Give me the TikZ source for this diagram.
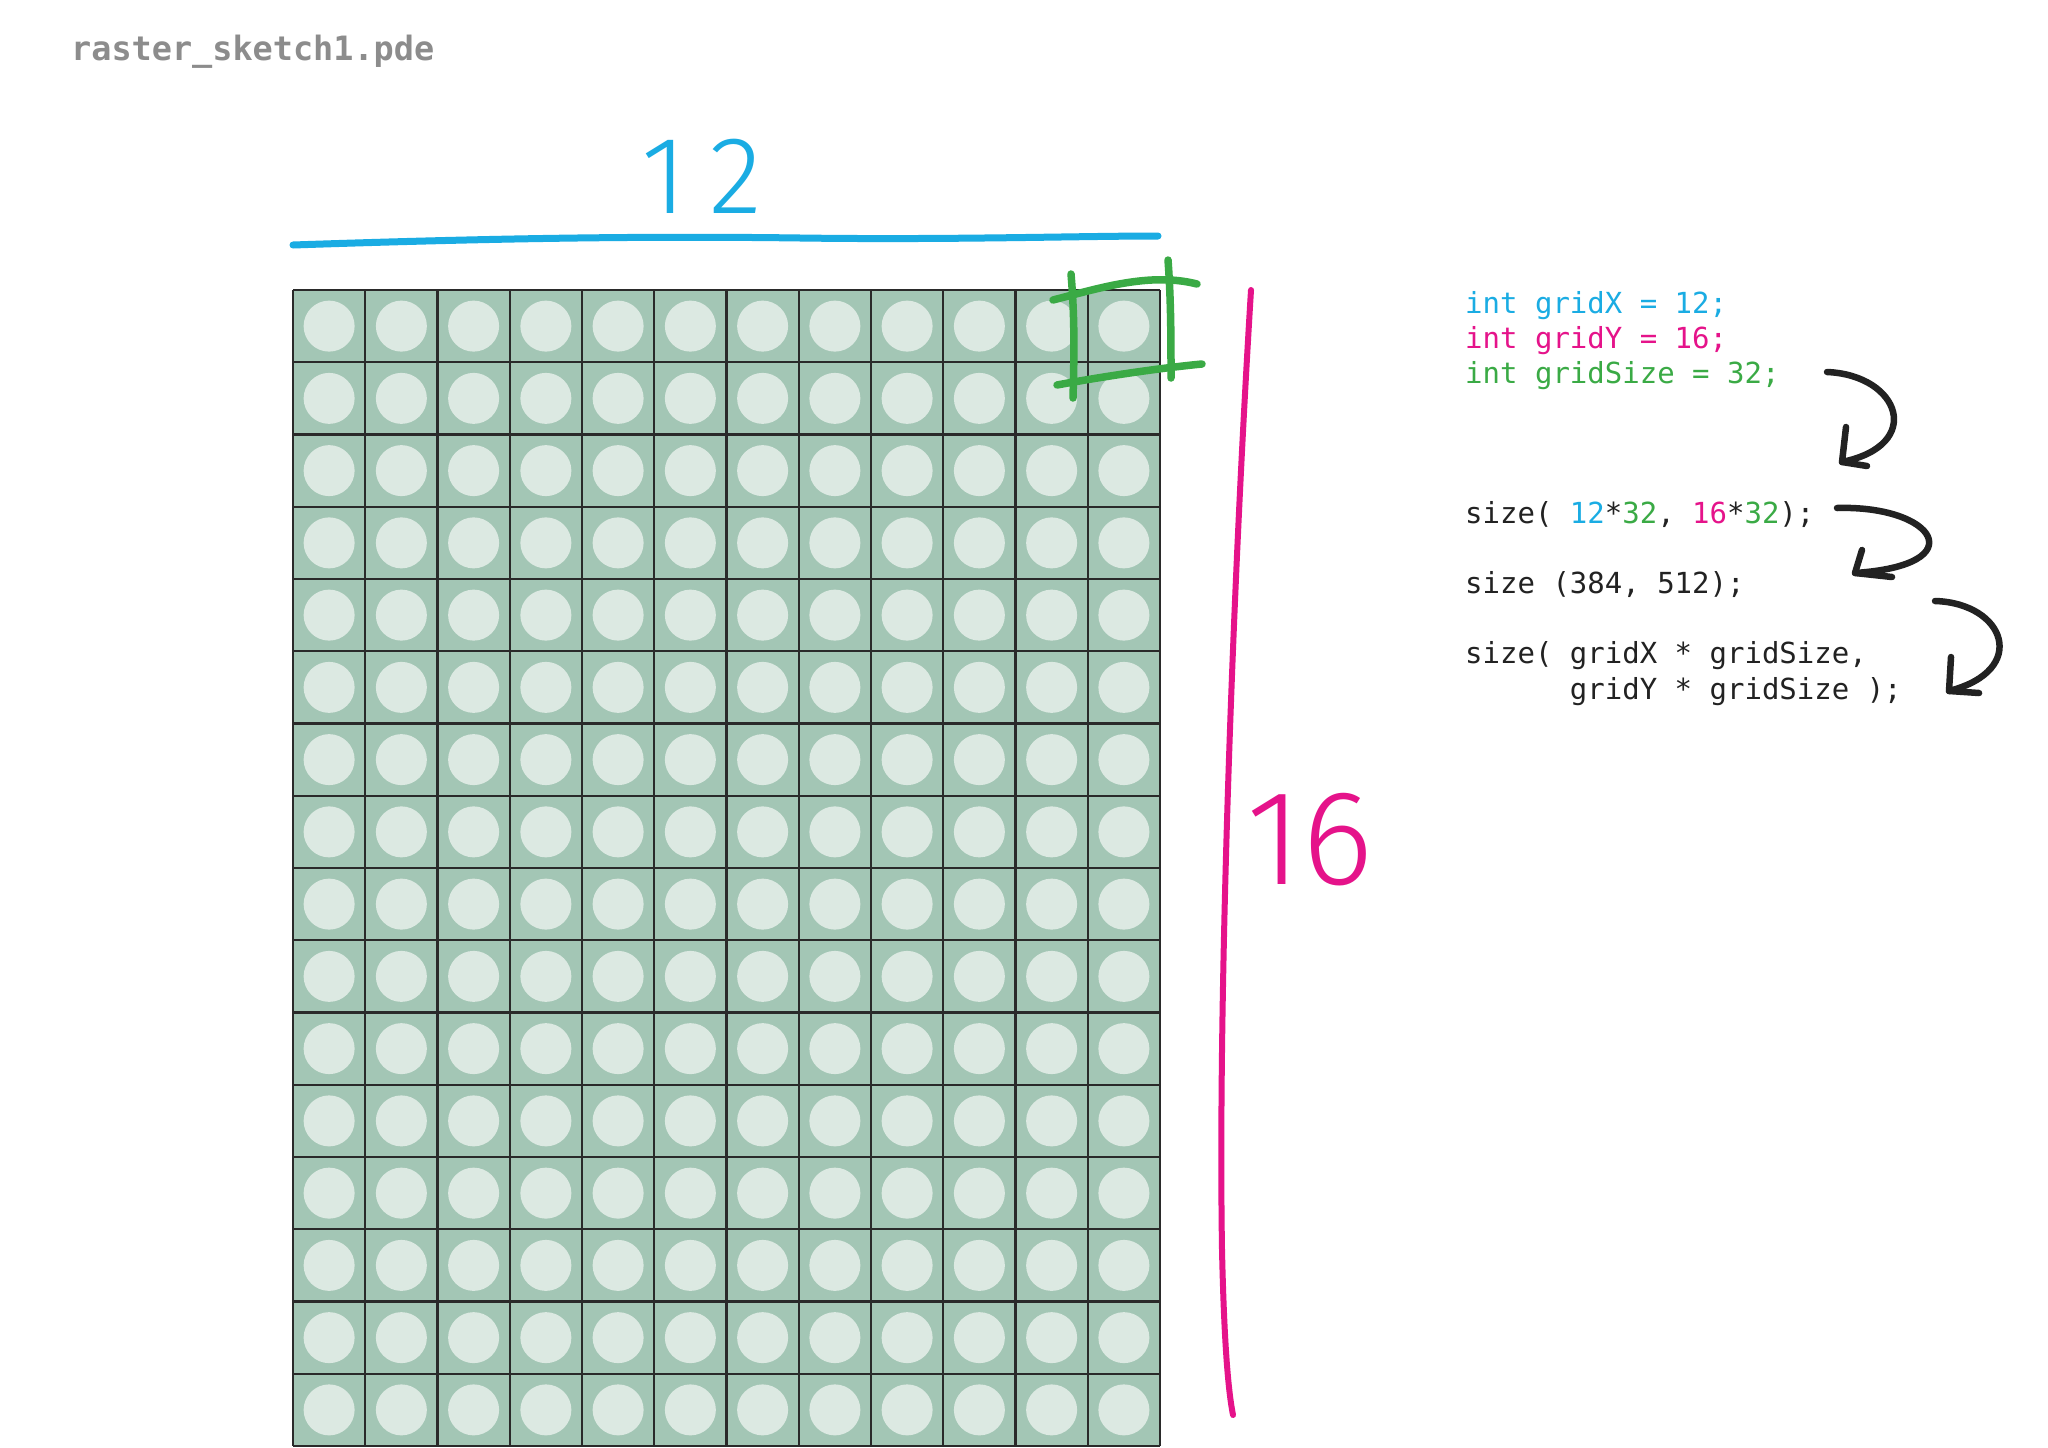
\documentclass[tikz,border=0pt]{standalone}
\usepackage{fontspec}
\setmonofont{DejaVu Sans Mono}
\newfontfamily\handfont{Fira Sans Light}
\definecolor{cellc}{HTML}{A3C6B5}
\definecolor{dotc}{HTML}{DCE9E2}
\definecolor{gridc}{HTML}{2A2A2A}
\definecolor{cyanc}{HTML}{1AACE3}
\definecolor{pinkc}{HTML}{E5138A}
\definecolor{greenc}{HTML}{3AAA45}
\definecolor{titlec}{HTML}{8C8C8C}
\definecolor{inkc}{HTML}{222222}
\tikzset{
  codetext/.style={anchor=base west,inner sep=0pt,text=inkc,font=\ttfamily\fontsize{29}{35}\selectfont},
  handstroke/.style={line width=#1,line cap=round,line join=round},
  arrowstroke/.style={draw=inkc,line width=6.5pt,line cap=round,line join=round},
  handnum/.style={inner sep=0pt,font=\handfont\fontsize{#1}{#1}\selectfont}
}
\begin{document}
\begin{tikzpicture}[x=1pt,y=-1pt]
\useasboundingbox (0,0) rectangle (2048,1448);
\fill[white] (0,0) rectangle (2048,1448);
% title
\node[anchor=base west,inner sep=0pt,text=titlec,font=\ttfamily\bfseries\fontsize{33.5}{40}\selectfont] (title) at (71,60) {raster\_sketch1.pde};
% grid
\def\cs{72.25}
\fill[cellc] (293,290) rectangle (1160,1446);
\foreach \i in {0,...,11}{
  \foreach \j in {0,...,15}{
    \fill[dotc] ({293+\cs*(\i+0.5)},{290+\cs*(\j+0.5)}) circle (25.5);
  }
}
\foreach \i in {0,...,12}{
  \draw[gridc,line width=2.2pt] ({293+\cs*\i},290) -- ({293+\cs*\i},1446);
}
\foreach \j in {0,...,16}{
  \draw[gridc,line width=2.2pt] (293,{290+\cs*\j}) -- (1160,{290+\cs*\j});
}
% blue dimension line and label
\draw[cyanc,handstroke=7pt] (293,245) .. controls (500,238) and (650,236) .. (800,238) .. controls (950,240) and (1080,236) .. (1158,236);
\node[handnum=110,text=cyanc] (twelve) at (702,176) {1\hspace{22pt}2};
% pink dimension line and label
\draw[pinkc,handstroke=6pt] (1251,290) .. controls (1232,600) and (1218,1000) .. (1222,1250) .. controls (1224,1340) and (1228,1390) .. (1233,1415);
\node[handnum=135,text=pinkc] (sixteen) at (1310,840) {16};
% green cell bracket
\draw[greenc,handstroke=7.5pt] (1071,274) .. controls (1075,320) and (1074,360) .. (1073,398);
\draw[greenc,handstroke=7.5pt] (1168,260) .. controls (1171,300) and (1171,340) .. (1171,378);
\draw[greenc,handstroke=7.5pt] (1053,300) .. controls (1100,288) and (1150,272) .. (1197,284);
\draw[greenc,handstroke=7.5pt] (1057,385) .. controls (1100,377) and (1160,368) .. (1202,364);
% code
\node[codetext,text=cyanc] (lx) at (1465,313) {int gridX = 12;};
\node[codetext,text=pinkc] (ly) at (1465,348) {int gridY = 16;};
\node[codetext,text=greenc] (ls) at (1465,383) {int gridSize = 32;};
\node[codetext] (l1) at (1465,523) {size( \textcolor{cyanc}{12}*\textcolor{greenc}{32}, \textcolor{pinkc}{16}*\textcolor{greenc}{32});};
\node[codetext] (l2) at (1465,593) {size (384, 512);};
\node[codetext] (l3) at (1465,663) {size( gridX * gridSize,};
\node[codetext] (l4) at (1465,699) {\phantom{size( }gridY * gridSize );};
% arrows
\coordinate (a1s) at (1827,372); \coordinate (a1e) at (1842,462);
\coordinate (a1u) at (1846,427); \coordinate (a1r) at (1867,466);
\draw[arrowstroke] (a1s) .. controls (1900,375) and (1925,445) .. (a1e);
\draw[arrowstroke] (a1u) -- (a1e) -- (a1r);
\coordinate (a2s) at (1837,508); \coordinate (a2e) at (1855,573);
\coordinate (a2u) at (1862,550); \coordinate (a2r) at (1892,577);
\draw[arrowstroke] (a2s) .. controls (1935,505) and (1975,565) .. (a2e);
\draw[arrowstroke] (a2u) -- (a2e) -- (a2r);
\coordinate (a3s) at (1935,601); \coordinate (a3e) at (1949,691);
\coordinate (a3u) at (1951,657); \coordinate (a3r) at (1979,693);
\draw[arrowstroke] (a3s) .. controls (2005,603) and (2030,670) .. (a3e);
\draw[arrowstroke] (a3u) -- (a3e) -- (a3r);
\end{tikzpicture}
\end{document}
